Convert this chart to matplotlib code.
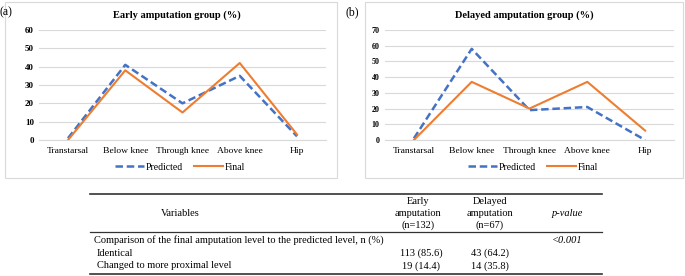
import matplotlib
matplotlib.use("Agg")
import matplotlib.pyplot as plt
from matplotlib.patches import Rectangle
from matplotlib.lines import Line2D

plt.rcParams['font.family'] = ['Liberation Serif', 'DejaVu Serif']

categories = ["Transtarsal", "Below knee", "Through knee", "Above knee", "Hip"]
early_predicted = [1, 41, 20, 35, 2]
early_final = [0, 38, 15, 42, 3]
delayed_predicted = [1, 58, 19, 21, 0]
delayed_final = [0, 37, 20, 37, 6]

table_header = ["Variables", ["Early", "amputation", "(n=132)"], ["Delayed", "amputation", "(n=67)"], "p-value"]
table_rows = [
    ["Comparison of the final amputation level to the predicted level, n (%)", "", "", "<0.001"],
    ["Identical", "113 (85.6)", "43 (64.2)", ""],
    ["Changed to more proximal level", "19 (14.4)", "14 (35.8)", ""],
]

W, H = 685, 276
fig = plt.figure(figsize=(W / 100, H / 100), dpi=100)

def fx(x):
    return x / W

def fy(y):
    return 1 - y / H

def add_ax(x0, y0, x1, y1):
    return fig.add_axes([fx(x0), fy(y1), fx(x1) - fx(x0), fy(y0) - fy(y1)])

BLUE = "#4472C4"
ORANGE = "#ED7D31"
GRID = "#D9D9D9"

def panel(box, axbox, title, title_x, pred, final, ymax, label, labelpos, legpos, ytfs):
    bx0, by0, bx1, by1 = box
    fig.patches.append(Rectangle((fx(bx0), fy(by1)), fx(bx1) - fx(bx0), fy(by0) - fy(by1),
                                 transform=fig.transFigure, fill=False, edgecolor=GRID, lw=0.8))
    ax = add_ax(*axbox)
    x = list(range(len(categories)))
    ax.plot(x, pred, color=BLUE, lw=1.8, ls=(0, (3, 1.5)), label="Predicted", zorder=3)
    ax.plot(x, final, color=ORANGE, lw=1.5, label="Final", zorder=3)
    ax.set_xlim(-0.5, len(categories) - 0.5)
    ax.set_ylim(0, ymax)
    ax.set_yticks(range(0, ymax + 1, 10))
    ax.set_xticks(x)
    ax.set_xticklabels(categories, fontsize=6.8)
    for t in ax.get_yticklabels():
        t.set_fontsize(ytfs)
        t.set_fontweight("bold")
    ax.grid(axis="y", color=GRID, lw=0.8)
    ax.set_axisbelow(True)
    for s in ["top", "right", "left"]:
        ax.spines[s].set_visible(False)
    ax.spines["bottom"].set_color(GRID)
    ax.tick_params(length=0, pad=4)
    ax.tick_params(axis="x", pad=5)
    fig.text(fx(title_x), fy(15), title, ha="center", va="center",
             fontsize=7.5, fontweight="bold")
    fig.text(fx(labelpos[0]), fy(labelpos[1]), label, ha="left", va="center", fontsize=8.5)
    ax.legend(loc="center", bbox_to_anchor=(fx(legpos[0]), fy(legpos[1])),
              bbox_transform=fig.transFigure, ncol=2, frameon=False, fontsize=7,
              handlelength=3.0, columnspacing=1.2, handletextpad=0.15)
    return ax

panel((5, 2, 337, 178), (39.4, 30, 325.6, 140), "Early amputation group (%)", 177,
      early_predicted, early_final, 60, "(a)", (0, 12), (180, 167), 6.5)
panel((365, 2, 683, 178), (385, 30, 674, 140), "Delayed amputation group (%)", 524,
      delayed_predicted, delayed_final, 70, "(b)", (346, 12), (533, 167), 5.8)

# Table
for y, lw in [(194, 1.2), (231.5, 0.9), (274, 1.2)]:
    fig.add_artist(Line2D([fx(90), fx(602)], [fy(y), fy(y)], color="#333333", lw=lw,
                          transform=fig.transFigure))

fs = 7.5
head_x = [180, 418, 490, 567]
num_x = [94, 421, 490, 567]
fig.text(fx(head_x[0]), fy(216), table_header[0], ha="center", va="baseline", fontsize=fs)
for ci in (1, 2):
    for li, line in enumerate(table_header[ci]):
        fig.text(fx(head_x[ci]), fy(204.5 + li * 11.8), line, ha="center", va="baseline",
                 fontsize=fs)
fig.text(fx(head_x[3]), fy(216), table_header[3], ha="center", va="baseline", fontsize=fs,
         style="italic")

row_y = [243, 256, 268.5]
for i, (row, y) in enumerate(zip(table_rows, row_y)):
    x0 = num_x[0] if i == 0 else num_x[0] + 3
    fig.text(fx(x0), fy(y), row[0], ha="left", va="baseline", fontsize=fs)
    fig.text(fx(num_x[1]), fy(y), row[1], ha="center", va="baseline", fontsize=fs)
    fig.text(fx(num_x[2]), fy(y), row[2], ha="center", va="baseline", fontsize=fs)
    fig.text(fx(num_x[3]), fy(y), row[3], ha="center", va="baseline", fontsize=fs, style="italic")

fig.savefig("out.png", dpi=100)
